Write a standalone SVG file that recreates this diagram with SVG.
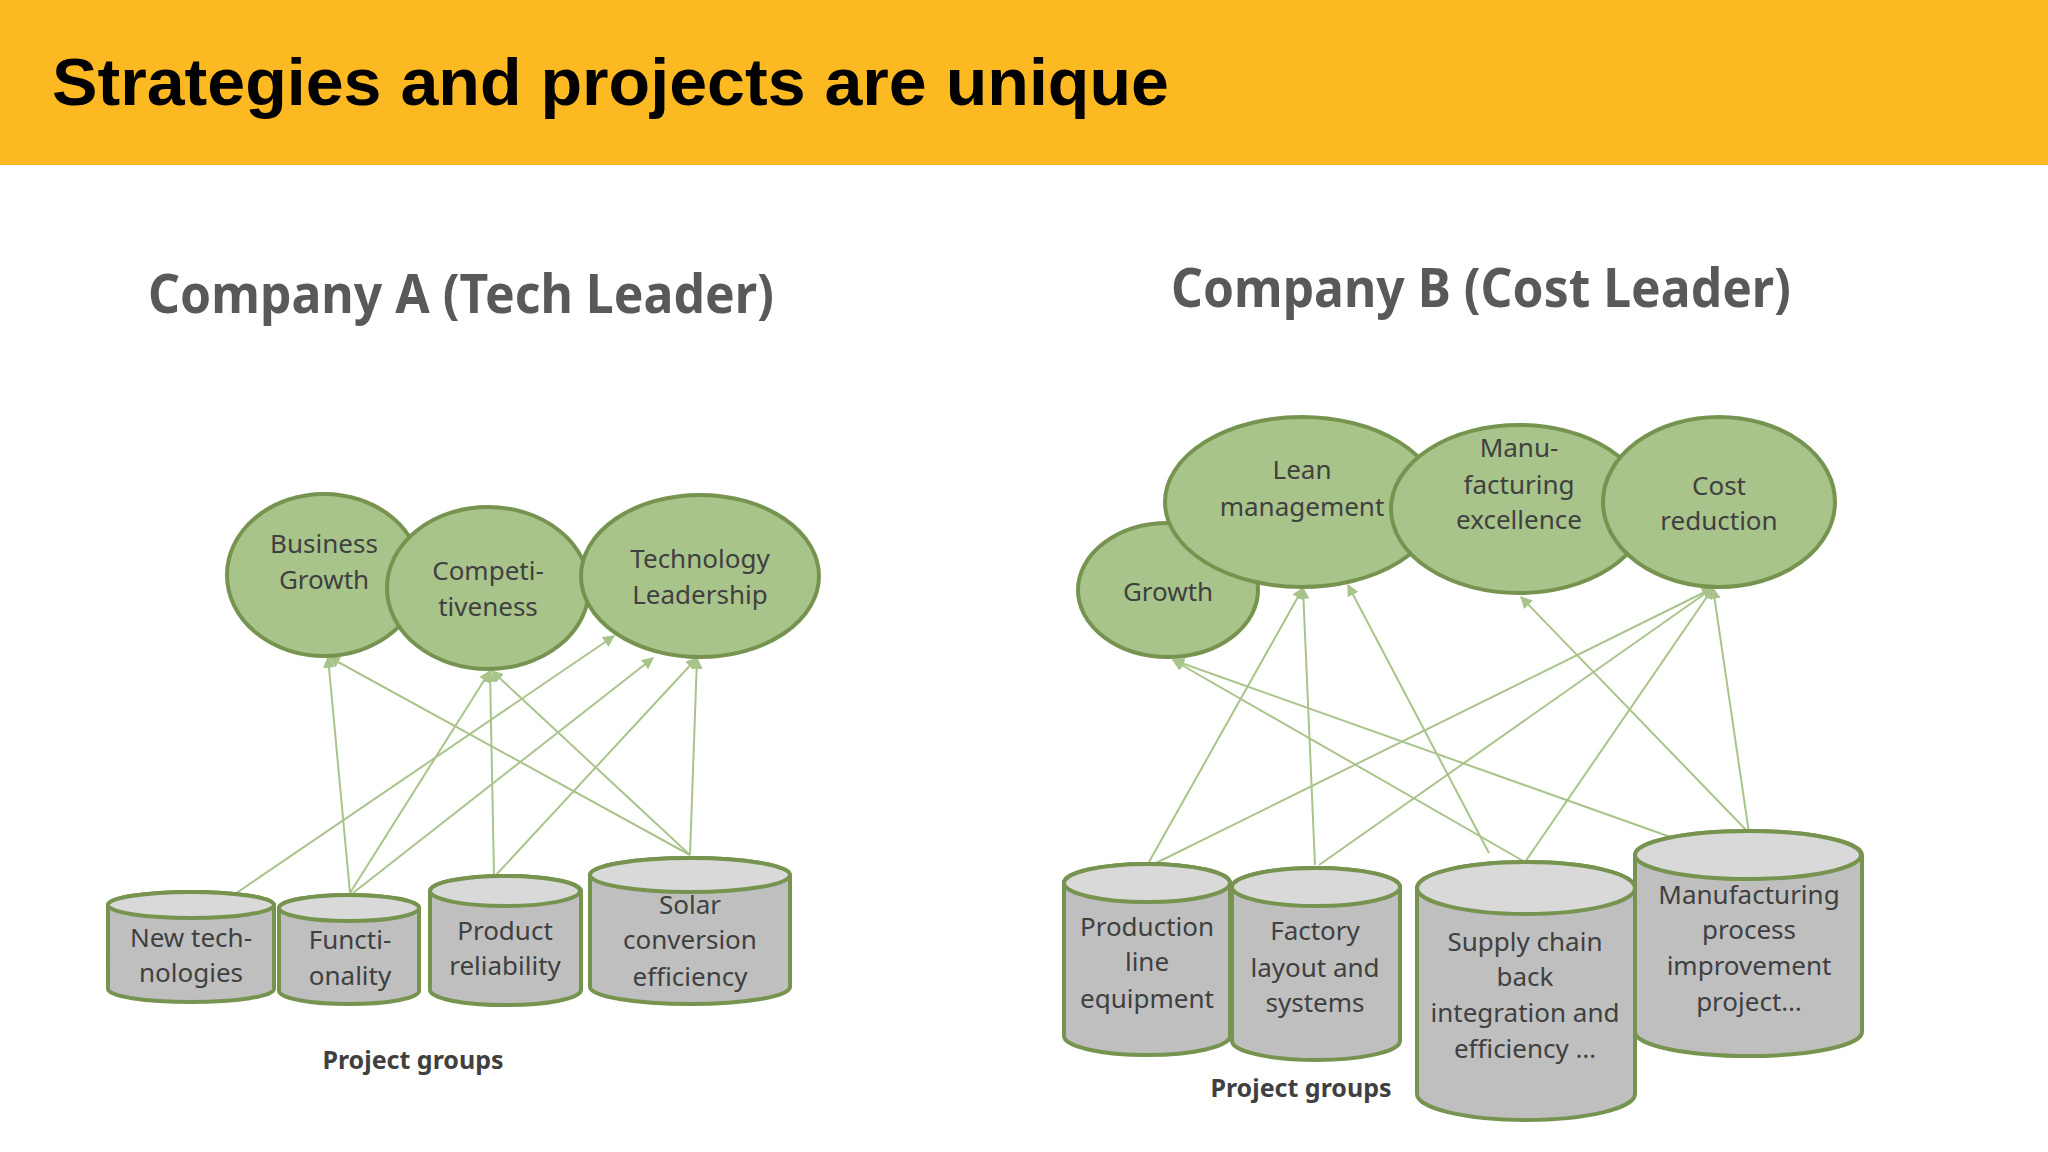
<svg xmlns="http://www.w3.org/2000/svg" width="2048" height="1152" viewBox="0 0 2048 1152">
<style>
.ell{fill:#A9C48A;stroke:#76944F;stroke-width:4}
.cyl{fill:#BFBFBF;stroke:#76944F;stroke-width:4}
.cap{fill:#D9D9D9;stroke:#76944F;stroke-width:4}
.t{font-family:"Noto Sans","Open Sans",sans-serif;font-size:26px;fill:#404040;text-anchor:middle}
.pg{font-family:"Noto Sans","Open Sans",sans-serif;font-size:25px;font-weight:bold;fill:#404040;text-anchor:middle}
.h2{font-family:"Noto Sans","Open Sans",sans-serif;font-size:54px;font-weight:bold;fill:#595959}
#connectors line{stroke:#A9C48A;stroke-width:2;marker-end:url(#ah)}
</style>
<defs><marker id="ah" viewBox="0 0 10 10" refX="9" refY="5" markerWidth="6" markerHeight="6" orient="auto"><path d="M0,0L10,5L0,10z" fill="#A9C48A"/></marker></defs>
<rect width="2048" height="1152" fill="#fff"/>
<rect width="2048" height="165" fill="#FDB922"/>
<text x="52" y="105" font-family="Liberation Sans,Arial,sans-serif" font-size="66" font-weight="bold" fill="#000" textLength="1117" lengthAdjust="spacingAndGlyphs">Strategies and projects are unique</text>
<text class="h2" x="148" y="313" textLength="626" lengthAdjust="spacingAndGlyphs">Company A (Tech Leader)</text>
<text class="h2" x="1171" y="307" textLength="620" lengthAdjust="spacingAndGlyphs">Company B (Cost Leader)</text>
<g id="connectors">
<line x1="232" y1="896" x2="614" y2="636"/>
<line x1="350" y1="893" x2="328" y2="657"/>
<line x1="350" y1="893" x2="490" y2="671"/>
<line x1="353" y1="893" x2="653" y2="658"/>
<line x1="494" y1="875" x2="490" y2="671"/>
<line x1="496" y1="875" x2="697" y2="658"/>
<line x1="690" y1="855" x2="329" y2="657"/>
<line x1="690" y1="855" x2="492" y2="671"/>
<line x1="690" y1="855" x2="697" y2="658"/>
<line x1="1149" y1="862" x2="1303" y2="588"/>
<line x1="1152" y1="865" x2="1713" y2="588"/>
<line x1="1315" y1="865" x2="1303" y2="588"/>
<line x1="1319" y1="865" x2="1713" y2="588"/>
<line x1="1489" y1="853" x2="1348" y2="585"/>
<line x1="1525" y1="862" x2="1713" y2="588"/>
<line x1="1525" y1="862" x2="1173" y2="660"/>
<line x1="1749" y1="833" x2="1521" y2="597"/>
<line x1="1749" y1="833" x2="1713" y2="588"/>
<line x1="1721" y1="855" x2="1173" y2="660"/>
</g>
<g id="bg"><ellipse class="ell" cx="324" cy="575" rx="97" ry="81"/><text class="t" x="324" y="553">Business</text><text class="t" x="324" y="589">Growth</text></g>
<g id="comp"><ellipse class="ell" cx="488" cy="588" rx="101" ry="81"/><text class="t" x="488" y="580">Competi-</text><text class="t" x="488" y="616">tiveness</text></g>
<g id="tech"><ellipse class="ell" cx="700" cy="576" rx="119" ry="81"/><text class="t" x="700" y="568">Technology</text><text class="t" x="700" y="604">Leadership</text></g>
<g id="nt"><path class="cyl" d="M108,905 A83,13 0 0 1 274,905 V989 A83,13 0 0 1 108,989Z"/><ellipse class="cap" cx="191" cy="905" rx="83" ry="13"/><text class="t" x="191" y="947">New tech-</text><text class="t" x="191" y="982">nologies</text></g>
<g id="fu"><path class="cyl" d="M279,908 A70,13 0 0 1 419,908 V991 A70,13 0 0 1 279,991Z"/><ellipse class="cap" cx="349" cy="908" rx="70" ry="13"/><text class="t" x="350" y="949">Functi-</text><text class="t" x="350" y="985">onality</text></g>
<g id="pr"><path class="cyl" d="M430,891 A75,15 0 0 1 581,891 V990 A75,15 0 0 1 430,990Z"/><ellipse class="cap" cx="505" cy="891" rx="75" ry="15"/><text class="t" x="505" y="940">Product</text><text class="t" x="505" y="975">reliability</text></g>
<g id="so"><path class="cyl" d="M590,875 A100,17 0 0 1 790,875 V987 A100,17 0 0 1 590,987Z"/><ellipse class="cap" cx="690" cy="875" rx="100" ry="17"/><text class="t" x="690" y="914">Solar</text><text class="t" x="690" y="949">conversion</text><text class="t" x="690" y="986">efficiency</text></g>
<text class="pg" x="413" y="1069">Project groups</text>
<g id="gr"><ellipse class="ell" cx="1168" cy="590" rx="90" ry="67"/><text class="t" x="1168" y="601">Growth</text></g>
<g id="le"><ellipse class="ell" cx="1302" cy="502" rx="137" ry="85"/><text class="t" x="1302" y="479">Lean</text><text class="t" x="1302" y="516">management</text></g>
<g id="ma"><ellipse class="ell" cx="1519" cy="509" rx="128" ry="84"/><text class="t" x="1519" y="457">Manu-</text><text class="t" x="1519" y="494">facturing</text><text class="t" x="1519" y="529">excellence</text></g>
<g id="co"><ellipse class="ell" cx="1719" cy="502" rx="116" ry="85"/><text class="t" x="1719" y="495">Cost</text><text class="t" x="1719" y="530">reduction</text></g>
<g id="ple"><path class="cyl" d="M1064,883 A83,19 0 0 1 1230,883 V1036 A83,19 0 0 1 1064,1036Z"/><ellipse class="cap" cx="1147" cy="883" rx="83" ry="19"/><text class="t" x="1147" y="936">Production</text><text class="t" x="1147" y="971">line</text><text class="t" x="1147" y="1008">equipment</text></g>
<g id="fls"><path class="cyl" d="M1232,887 A84,19 0 0 1 1400,887 V1041 A84,19 0 0 1 1232,1041Z"/><ellipse class="cap" cx="1316" cy="887" rx="84" ry="19"/><text class="t" x="1315" y="940">Factory</text><text class="t" x="1315" y="977">layout and</text><text class="t" x="1315" y="1012">systems</text></g>
<g id="sc"><path class="cyl" d="M1417,888 A109,26 0 0 1 1635,888 V1094 A109,26 0 0 1 1417,1094Z"/><ellipse class="cap" cx="1526" cy="888" rx="109" ry="26"/><text class="t" x="1525" y="951">Supply chain</text><text class="t" x="1525" y="986">back</text><text class="t" x="1525" y="1022">integration and</text><text class="t" x="1525" y="1058">efficiency  …</text></g>
<g id="mpi"><path class="cyl" d="M1635,855 A113,24 0 0 1 1862,855 V1032 A113,24 0 0 1 1635,1032Z"/><ellipse class="cap" cx="1748" cy="855" rx="113" ry="24"/><text class="t" x="1749" y="904">Manufacturing</text><text class="t" x="1749" y="939">process</text><text class="t" x="1749" y="975">improvement</text><text class="t" x="1749" y="1011">project…</text></g>
<text class="pg" x="1301" y="1097">Project groups</text>
</svg>
